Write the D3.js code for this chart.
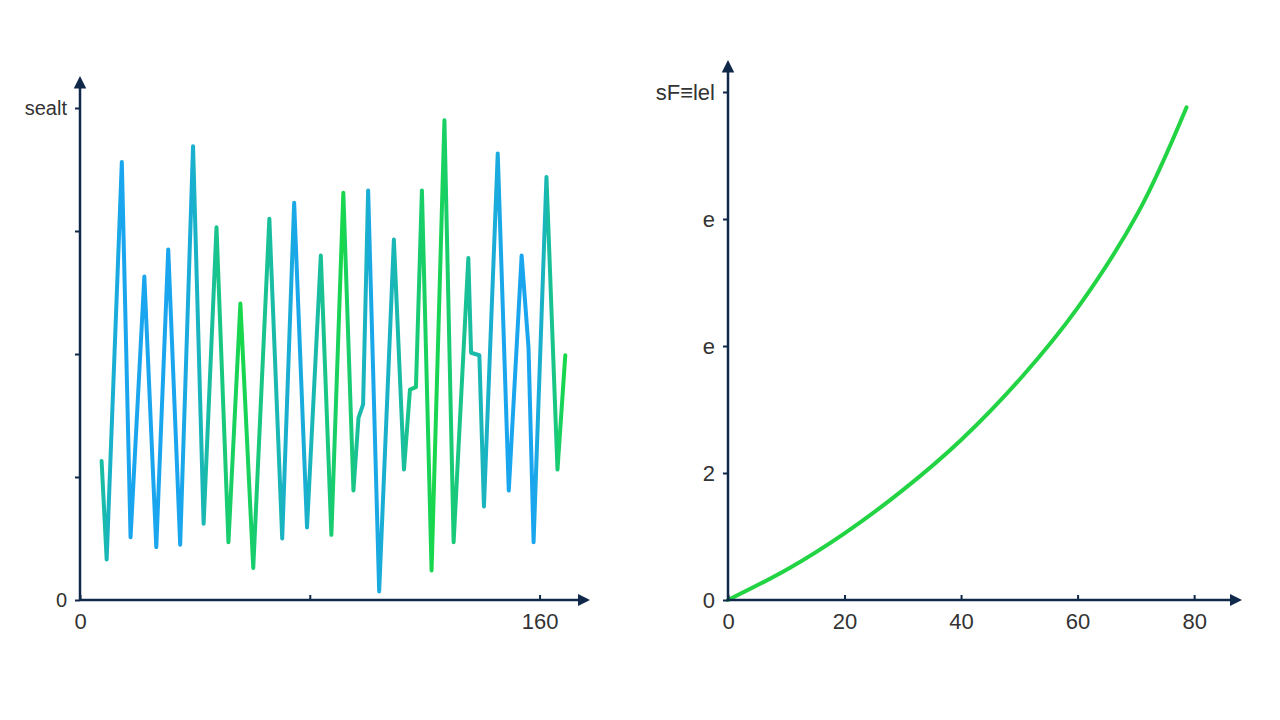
<!DOCTYPE html>
<html>
<head>
<meta charset="utf-8">
<script src="https://cdn.jsdelivr.net/npm/d3@7"></script>
<style>
  body { margin: 0; background: #fff; }
  text { font-family: "Liberation Sans", Arial, sans-serif; fill: #333; }
</style>
</head>
<body>
<svg width="1280" height="720"></svg>
<script>
// left panel: zigzag series
var leftX = [4.7,5.8,9.1,11.0,14.0,16.6,19.2,21.8,24.6,26.9,29.7,32.3,34.9,37.7,41.2,44.0,46.6,49.4,52.4,54.7,57.3,59.5,60.6,61.6,62.7,65.1,68.3,70.5,71.8,73.1,74.4,76.5,79.3,81.3,84.5,85.1,86.9,87.9,90.9,93.3,96.1,97.6,98.7,101.5,103.9,105.6];
var leftY = [1.13,0.33,3.56,0.51,2.63,0.43,2.85,0.45,3.69,0.62,3.03,0.47,2.41,0.26,3.10,0.50,3.23,0.59,2.80,0.53,3.31,0.89,1.48,1.59,3.33,0.07,2.93,1.06,1.71,1.73,3.33,0.24,3.90,0.47,2.78,2.01,1.99,0.76,3.63,0.89,2.80,2.05,0.47,3.44,1.06,1.99];
// right panel: rising curve
var rightX = [0,10.5,20,30,40,50.5,60,70.5,78.7];
var rightY = [0,0.5,1.05,1.73,2.52,3.52,4.6,6.12,7.76];
var leftYTickVals = [0,1,2,3,4];
var leftYLabels = ["0","","","","sealt"];
var leftXTickVals = [0,50,100];
var leftXLabels = ["0","","160"];
var rightYTickVals = [0,2,4,6,8];
var rightYLabels = ["0","2","e","e","sF\u2261lel"];
var rightXTickVals = [0,20,40,60,80];

var svg = d3.select("svg");
var axisColor = "#10294a";

svg.append("defs").append("marker")
  .attr("id","arrow").attr("viewBox","0 0 10 10").attr("refX",2).attr("refY",5)
  .attr("markerWidth",5).attr("markerHeight",5).attr("orient","auto-start-reverse")
  .append("path").attr("d","M0,0L10,5L0,10z").attr("fill",axisColor);

// gradient for zigzag
var grad = svg.select("defs").append("linearGradient")
  .attr("id","zz").attr("gradientUnits","userSpaceOnUse")
  .attr("x1",80).attr("x2",585).attr("y1",0).attr("y2",0);
var stops = [[0,"#18d84a"],[0.08,"#1aa6ee"],[0.2,"#1aa6ee"],[0.32,"#18d84a"],[0.43,"#1aa6ee"],[0.52,"#18d84a"],[0.58,"#1aa6ee"],[0.7,"#18d84a"],[0.84,"#1aa6ee"],[0.9,"#1aa6ee"],[0.96,"#18d84a"],[1,"#18d84a"]];
grad.selectAll("stop").data(stops).enter().append("stop")
  .attr("offset",function(d){return d[0];}).attr("stop-color",function(d){return d[1];});

function panel(xs, ys, xDom, xRange, yDom, yRange, yTicks, yLabs, xTicks, xLabs, stroke) {
  var x = d3.scaleLinear().domain(xDom).range(xRange);
  var y = d3.scaleLinear().domain(yDom).range(yRange);
  var pts = xs.map(function(v,i){ return [v, ys[i]]; });

  var line = d3.line().x(function(d){return x(d[0]);}).y(function(d){return y(d[1]);});
  if (stroke !== "zz") line.curve(d3.curveCatmullRom);
  svg.append("path").datum(pts)
    .attr("d", line).attr("fill","none")
    .attr("stroke", stroke === "zz" ? "url(#zz)" : stroke)
    .attr("stroke-width", 4)
    .attr("stroke-linejoin","round").attr("stroke-linecap","round");

  var yAxis = d3.axisLeft(y).tickValues(yTicks).tickSize(5).tickPadding(8)
    .tickFormat(function(d,i){ return yLabs[i]; });
  var gy = svg.append("g").attr("transform","translate(" + xRange[0] + ",0)").call(yAxis);
  var xAxis = d3.axisBottom(x).tickValues(xTicks).tickSize(5).tickPadding(8)
    .tickFormat(function(d,i){ return xLabs[i]; });
  var gx = svg.append("g").attr("transform","translate(0," + yRange[0] + ")").call(xAxis);
  [gx, gy].forEach(function(g){
    g.select(".domain").remove();
    g.selectAll("line").attr("stroke", axisColor).attr("stroke-width",2);
    g.selectAll("text").attr("font-size",22).attr("fill","#333");
  });
  gx.selectAll("line").attr("y2",-5);
  // axis lines with arrows
  svg.append("line").attr("x1",xRange[0]).attr("y1",yRange[0]).attr("x2",xRange[0]).attr("y2",yRange[1]-22)
    .attr("stroke",axisColor).attr("stroke-width",2.5).attr("marker-end","url(#arrow)");
  svg.append("line").attr("x1",xRange[0]).attr("y1",yRange[0]).attr("x2",xRange[1]).attr("y2",yRange[0])
    .attr("stroke",axisColor).attr("stroke-width",2.5).attr("marker-end","url(#arrow)");
  return gy;
}

var gl = panel(leftX, leftY, [0,108.8], [80,580], [0,4], [600,108],
  leftYTickVals, leftYLabels, leftXTickVals, leftXLabels, "zz");
gl.selectAll("text").attr("font-size",20);
panel(rightX, rightY, [0,86.5], [728,1232], [0,8], [600,92],
  rightYTickVals, rightYLabels, rightXTickVals, rightXTickVals.map(String), "#22d443");
</script>
</body>
</html>
